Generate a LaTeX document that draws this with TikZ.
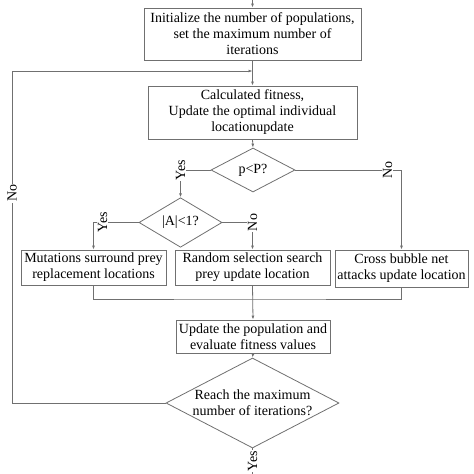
\documentclass[tikz,border=0pt]{standalone}
\usepackage{fontspec}
\setmainfont{Liberation Serif}
\usepackage{tikz}
\usetikzlibrary{shapes.geometric,arrows.meta}

\definecolor{linegray}{RGB}{112,112,112}

\tikzset{
  txt/.style={font=\fontsize{14}{16}\selectfont, text=black, align=center},
  procbox/.style={txt, draw=linegray, thick, fill=white, inner sep=0pt},
  decision/.style={txt, draw=linegray, thick, fill=white, shape=diamond, inner sep=0pt},
  line/.style={draw=linegray, thick},
  arr/.style={line, -{Latex[length=4pt,width=3pt]}},
  lab/.style={txt, fill=white, rotate=90, inner sep=1pt}
}

\begin{document}
\begin{tikzpicture}[x=1pt, y=-1pt]
% page frame, in pixels of the 474 x 474 picture
\useasboundingbox (0,0) rectangle (474,474);

% Process boxes
\node[procbox, minimum width=217, minimum height=52] (init) at (252.5,34)
  {Initialize the number of populations,\\ set the maximum number of\\ iterations};
\node[procbox, minimum width=209, minimum height=53] (fit) at (252.5,112.5)
  {Calculated fitness,\\ Update the optimal individual\\ locationupdate};
\node[procbox, minimum width=145, minimum height=35] (mut) at (93.5,267.5)
  {Mutations surround prey\\ replacement locations};
\node[procbox, minimum width=155, minimum height=35] (rand) at (252.5,267.5)
  {Random selection search\\ prey update location};
\node[procbox, minimum width=133, minimum height=37] (cross) at (401.5,268.5)
  {Cross bubble net\\ attacks update location};
\node[procbox, minimum width=154, minimum height=33] (upd) at (253,336.5)
  {Update the population and\\ evaluate fitness values};

% Decisions
\node[decision, minimum width=84, minimum height=44] (pq) at (253,170) {p<P?};
\node[decision, minimum width=83, minimum height=43] (aq) at (180.5,222.5) {|A|<1?};
\node[decision, minimum width=173, minimum height=90, inner sep=-2pt, aspect=1.92] (reach) at (252.5,403)
  {Reach the maximum\\ number of iterations?};

% Free ends and corners
\coordinate (start) at (252.5,0);
\coordinate (stop) at (252.5,474);
\coordinate (jn) at (252.5,71);
\coordinate (loopL) at (12,71);
\coordinate (mg) at (252.5,299);

% Main flow
\draw[arr] (start) -- (init.north);
\draw[arr] (init.south) -- (fit.north);
\draw[arr] (fit.south) -- (pq.north);
\draw[arr] (pq.west) -| node[pos=0.5, lab] {Yes} (aq.north);
\draw[arr] (pq.east) -| node[pos=0.435, lab] {No} (cross.north);
\draw[arr] (aq.west) -| node[pos=0.4, lab] {Yes} (mut.north);
\draw[arr] (aq.east) -| node[pos=0.5, lab] {No} (rand.north);

% Merge of the three branches
\draw[line] (mut.south) |- (mg) -| (cross.south);
\draw[arr] (rand.south) -- (upd.north);
\draw[arr] (upd.south) -- (reach.north);

% Loop back and exit
\draw[line] (reach.west) -| node[pos=0.816, lab] {No} (loopL);
\draw[arr] (loopL) -- (jn);
\draw[line] (reach.south) -- node[pos=0.5, lab] {Yes} (stop);
\end{tikzpicture}
\end{document}
